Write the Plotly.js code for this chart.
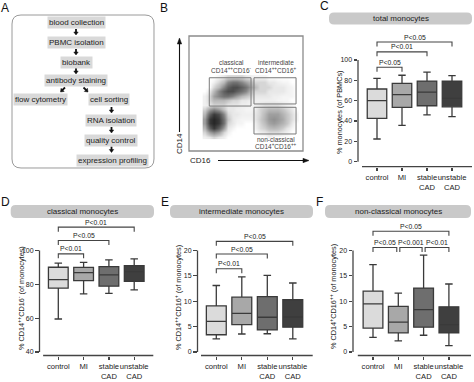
<!DOCTYPE html>
<html><head><meta charset="utf-8">
<script src="https://cdn.plot.ly/plotly-3.0.1.min.js"></script>
<style>html,body{margin:0;padding:0;background:#fff;}#chart{width:474px;height:382px;}</style>
</head><body><div id="chart"></div>
<script>
// ---------- DATA ----------
const groups = ['control', 'MI', 'stable<br>CAD', 'unstable<br>CAD'];

// Panel A workflow
const steps = ['blood collection', 'PBMC isolation', 'biobank', 'antibody staining',
  'flow cytometry', 'cell sorting', 'RNA isolation', 'quality control', 'expression profiling'];

// Panel B flow cytometry density (CD16 bins x CD14 bins)
const cd16Bins = [14, 18, 22, 26, 30, 34, 38, 42, 46, 50, 54, 58, 62, 66, 70, 74, 78, 82, 86, 90, 94];
const cd14Bins = [12, 16, 20, 24, 28, 32, 36, 40, 44, 48, 52, 56, 60, 64];
const density = [
  [0.3, 0.5, 1, 0.5, 0.3, 0, 0, 0, 0, 0, 0, 0, 0, 0, 0.3, 0, 0, 0, 0, 0, 0],
  [1, 3, 4, 3, 1, 0.3, 0, 0, 0, 0, 0, 0, 0.3, 0.5, 0.8, 0.8, 0.8, 0.5, 0.3, 0, 0],
  [2, 6, 8, 6, 3, 0.5, 0.2, 0, 0, 0, 0, 0.2, 0.8, 1.2, 1.8, 2, 1.8, 1.2, 0.6, 0.2, 0],
  [3, 8, 9, 8, 5, 1, 0.5, 0.2, 0.2, 0, 0, 0.3, 1, 1.8, 2.8, 3.2, 2.8, 2.2, 1.5, 0.5, 0],
  [3, 8, 9, 8, 5, 1.5, 0.5, 0.3, 0.2, 0.2, 0.2, 0.5, 1.2, 2.2, 3.2, 3.6, 3.2, 2.6, 1.6, 0.8, 0.2],
  [2, 6, 8, 7, 4, 1, 0.5, 0.5, 0.3, 0.3, 0.3, 0.5, 1, 2, 3, 3, 3, 2.2, 1.5, 0.8, 0.2],
  [1, 3, 4, 3, 1.5, 0.5, 0.5, 0.3, 0.3, 0.2, 0.2, 0.3, 1, 1.5, 2, 2, 2, 1.5, 1, 0.5, 0],
  [0.3, 0.5, 1, 1, 1, 0.5, 0.5, 0.5, 0.3, 0.3, 0.2, 0.3, 0.5, 0.8, 0.8, 0.8, 0.8, 0.5, 0.3, 0.2, 0],
  [0.3, 1, 2, 2, 2, 1.5, 1, 1, 0.5, 0.5, 0.3, 0.3, 0.3, 0.3, 0.3, 0.3, 0.2, 0.2, 0.2, 0, 0],
  [0.3, 1, 3, 4, 5, 5, 4, 3, 2, 1.5, 1, 0.5, 0.5, 0.5, 0.5, 0.3, 0.3, 0.2, 0.2, 0.2, 0],
  [0, 0.5, 2, 4, 6, 7, 7, 6, 5, 4, 2, 1, 1, 1, 0.5, 0.5, 0.5, 0.5, 0.3, 0.2, 0],
  [0, 0, 1, 2, 4, 6, 7, 7, 6, 5, 3, 2, 1, 1, 1, 0.5, 0.5, 0.5, 0.3, 0.2, 0],
  [0, 0, 0.3, 1, 2, 4, 5, 5, 4, 3, 2, 1, 1, 1, 0.5, 0.5, 0.3, 0.2, 0.2, 0, 0],
  [0, 0, 0, 0.2, 0.5, 1, 1, 1, 1, 0.5, 0.3, 0.2, 0.2, 0.2, 0, 0, 0, 0, 0, 0, 0]
];
const gateNames = ['classical', 'intermediate', 'non-classical'];
const gatePhenotypes = ['CD14<sup>++</sup>CD16<sup>-</sup>', 'CD14<sup>++</sup>CD16<sup>+</sup>', 'CD14<sup>+</sup>CD16<sup>++</sup>'];
const gateCD16Lo = [17.8, 57, 57], gateCD16Hi = [54.4, 93.9, 93.9];
const gateCD14Lo = [39.1, 40.9, 14.8], gateCD14Hi = [63.7, 63.7, 38];

// Panel C: total monocytes (% of PBMCs)
const totLow = [22.3, 35.7, 46, 44.3];
const totQ1 = [42.6, 53.4, 55, 54];
const totMed = [60, 66, 68.5, 62.3];
const totQ3 = [71.5, 77, 79.3, 79.3];
const totHigh = [82, 85, 88, 84.6];
const totPairs = [[0, 1], [0, 2], [0, 3]];
const totP = ['P<0.05', 'P<0.01', 'P<0.05'];

// Panel D: classical monocytes
const claLow = [59.5, 74.3, 74.7, 76.7];
const claQ1 = [77.7, 82.2, 78.9, 81.8];
const claMed = [82.8, 86.9, 85.6, 87.5];
const claQ3 = [90.1, 90, 90.5, 91];
const claHigh = [92.5, 93, 94.4, 95];
const claPairs = [[0, 1], [0, 2], [0, 3]];
const claP = ['P<0.01', 'P<0.05', 'P<0.01'];

// Panel E: intermediate monocytes
const intLow = [2.6, 3.55, 3.6, 2.6];
const intQ1 = [3.4, 5.4, 4.35, 4.9];
const intMed = [6.05, 7.6, 6.85, 6.9];
const intQ3 = [9.1, 10.8, 10.9, 10.3];
const intHigh = [13.1, 14.8, 15.1, 13.6];
const intPairs = [[0, 1], [0, 2], [0, 3]];
const intP = ['P<0.01', 'P<0.05', 'P<0.05'];

// Panel F: non-classical monocytes
const ncLow = [2.9, 2.2, 3.3, 1.25];
const ncQ1 = [4.7, 3.75, 4.9, 3.75];
const ncMed = [9.5, 5.9, 8.35, 5.4];
const ncQ3 = [12, 9, 12.6, 8.9];
const ncHigh = [17.2, 11.6, 19.1, 13.4];
const ncPairs = [[0, 1], [1, 2], [2, 3], [0, 3]];
const ncP = ['P<0.05', 'P<0.001', 'P<0.01', 'P<0.05'];

// ---------- LAYOUT HELPERS ----------
const W = 474, H = 382;
const FONT = 'Liberation Sans, Arial, sans-serif';
const fills = ['#dbdbdb', '#a8a8a8', '#6e6e6e', '#3f3f3f'];
const px = x => x / W, py = y => 1 - y / H;
const traces = [], shapes = [], annotations = [];
const layout = {
  width: W, height: H, margin: {l: 0, r: 0, t: 0, b: 0},
  paper_bgcolor: '#fff', plot_bgcolor: 'rgba(0,0,0,0)', showlegend: false,
  font: {family: FONT, color: '#222'}
};
function rr(x0, y0, x1, y1, r) {
  const P = (x, y) => px(x).toFixed(5) + ',' + py(y).toFixed(5);
  return 'M' + P(x0 + r, y0) + ' L' + P(x1 - r, y0) + ' Q' + P(x1, y0) + ' ' + P(x1, y0 + r) +
    ' L' + P(x1, y1 - r) + ' Q' + P(x1, y1) + ' ' + P(x1 - r, y1) + ' L' + P(x0 + r, y1) +
    ' Q' + P(x0, y1) + ' ' + P(x0, y1 - r) + ' L' + P(x0, y0 + r) + ' Q' + P(x0, y0) + ' ' + P(x0 + r, y0) + ' Z';
}
function txt(x, y, t, size, extra) {
  annotations.push(Object.assign({xref: 'paper', yref: 'paper', x: px(x), y: py(y), text: t, showarrow: false,
    xanchor: 'center', yanchor: 'middle', font: {family: FONT, size: size, color: '#222'}}, extra || {}));
}
// arrow drawn as shapes: stem + filled head
function arrow(tx, ty, hx, hy, w, hl, hw) {
  const dx = hx - tx, dy = hy - ty, L = Math.hypot(dx, dy), ux = dx / L, uy = dy / L;
  const bx = hx - ux * hl, by = hy - uy * hl;
  const P = (x, y) => px(x).toFixed(5) + ',' + py(y).toFixed(5);
  shapes.push({type: 'line', xref: 'paper', yref: 'paper', x0: px(tx), y0: py(ty), x1: px(bx + ux * 0.5), y1: py(by + uy * 0.5),
    line: {color: '#111', width: w}});
  shapes.push({type: 'path', xref: 'paper', yref: 'paper', fillcolor: '#111', line: {color: '#111', width: 0.5},
    path: 'M' + P(hx, hy) + ' L' + P(bx - uy * hw, by + ux * hw) + ' L' + P(bx + uy * hw, by - ux * hw) + ' Z'});
}

// ---------- PANEL LETTERS ----------
[['A', 5, 8], ['B', 164, 8], ['C', 324, 6], ['D', 5, 202], ['E', 165, 202], ['F', 319, 202]]
  .forEach(l => txt(l[1], l[2], l[0], 12, {font: {family: FONT, size: 12, color: '#111'}}));

// ---------- PANEL A ----------
shapes.push({type: 'path', xref: 'paper', yref: 'paper', path: rr(12, 15, 154, 168, 9),
  line: {color: '#9a9a9a', width: 1}, fillcolor: 'rgba(0,0,0,0)'});
const stepPos = [[76, 23], [76, 42.3], [76, 62], [76, 80.7], [40.8, 100], [109, 100], [111, 120], [111, 140], [112, 160]];
steps.forEach((s, i) => txt(stepPos[i][0], stepPos[i][1], s, 8, {bgcolor: '#d9d9d9', borderpad: 1}));
[[76, 29, 76, 35], [76, 49, 76, 55], [76, 68, 76, 74], [65, 87.5, 60.5, 92], [83.5, 87.5, 88, 92],
 [111.5, 107, 111.5, 113], [111.5, 127, 111.5, 133], [111.5, 146.5, 111.5, 152.5]]
  .forEach(a => arrow(a[0], a[1], a[2], a[3], 1.8, 3, 2.2));

// ---------- PANEL B ----------
layout.xaxis = {domain: [px(189), px(303)], range: [0, 100], visible: false, fixedrange: true, anchor: 'y'};
layout.yaxis = {domain: [py(151), py(36)], range: [0, 100], visible: false, fixedrange: true, anchor: 'x'};
traces.push({type: 'heatmap', x: cd16Bins, y: cd14Bins, z: density, xaxis: 'x', yaxis: 'y', zsmooth: 'best',
  zmin: 0, zmax: 9, showscale: false, hoverinfo: 'skip',
  colorscale: [[0, '#ffffff'], [0.03, '#f1f1f1'], [0.15, '#c9c9c9'], [0.45, '#858585'], [1, '#262626']]});
shapes.push({type: 'rect', xref: 'paper', yref: 'paper', x0: px(189), x1: px(303), y0: py(151), y1: py(36),
  line: {color: '#8c8c8c', width: 1.3}});
gateNames.forEach((g, i) => shapes.push({type: 'rect', xref: 'x', yref: 'y', x0: gateCD16Lo[i], x1: gateCD16Hi[i],
  y0: gateCD14Lo[i], y1: gateCD14Hi[i], line: {color: '#7a7a7a', width: 1}}));
const gateLabelPos = [[231, 62.7, 69.5], [275.7, 62.7, 69.5], [275.7, 139.3, 146.5]];
gateNames.forEach((g, i) => {
  txt(gateLabelPos[i][0], gateLabelPos[i][1], g, 6.5, {font: {family: FONT, size: 6.5, color: '#444'}});
  txt(gateLabelPos[i][0], gateLabelPos[i][2], gatePhenotypes[i], 6.5, {font: {family: FONT, size: 6.5, color: '#444'}});
});
arrow(179.5, 132, 179.5, 38, 1.1, 6, 2.2);
arrow(218, 160.5, 309, 160.5, 1.1, 6, 2.2);
txt(180, 144, 'CD14', 8, {textangle: -90});
txt(200, 160.5, 'CD16', 8);

// ---------- BOX PANELS ----------
function boxPanel(c) {
  const n = c.n, xa = 'x' + n, ya = 'y' + n, k = c.k;
  const lo = c.refVal - (c.axisPx - c.refPx) / k;
  const hi = c.refVal + (c.refPx - c.topPx) / k;
  const valPx = v => c.refPx - (v - c.refVal) * k;
  layout['xaxis' + n] = {domain: [px(c.left), px(c.right)], range: [(c.left - c.cat0) / c.step, (c.right - c.cat0) / c.step],
    anchor: ya, tickvals: [0, 1, 2, 3], ticktext: groups, tickangle: 0, ticks: 'outside', ticklen: 3.5, tickwidth: 1.2,
    tickcolor: '#444', showline: false, showgrid: false, zeroline: false, fixedrange: true, automargin: false,
    tickfont: {family: FONT, size: 7.6, color: '#222'}};
  layout['yaxis' + n] = {domain: [py(c.axisPx), py(c.topPx)], range: [lo, hi], anchor: xa, tickvals: c.ticks,
    ticks: 'outside', ticklen: 3.5, tickwidth: 1.2, tickcolor: '#444', showline: false, showgrid: false, zeroline: false,
    fixedrange: true, automargin: false, tickfont: {family: FONT, size: 7, color: '#222'}};
  for (let i = 0; i < 4; i++) {
    traces.push({type: 'box', xaxis: xa, yaxis: ya, x: [i], q1: [c.q1[i]], median: [c.med[i]], q3: [c.q3[i]],
      lowerfence: [c.low[i]], upperfence: [c.high[i]], width: 0.78, whiskerwidth: 0.38, fillcolor: fills[i],
      line: {color: '#3a3a3a', width: 1.3}, boxpoints: false, hoverinfo: 'skip'});
  }
  shapes.push({type: 'line', xref: 'paper', yref: 'paper', x0: px(c.left), x1: px(c.left),
    y0: py(valPx(c.ticks[0])), y1: py(valPx(c.ticks[c.ticks.length - 1])), line: {color: '#444', width: 1.3}});
  shapes.push({type: 'line', xref: 'paper', yref: 'paper', x0: px(c.cat0 - 0.6 * c.step), x1: px(c.right),
    y0: py(c.axisPx), y1: py(c.axisPx), line: {color: '#444', width: 1.3}});
  const drop = 4.5 / k;
  c.pairs.forEach((p, j) => {
    const y = c.levels[j], x0 = p[0] + c.insets[j][0], x1 = p[1] - c.insets[j][1];
    shapes.push({type: 'path', xref: xa, yref: ya, line: {color: '#444', width: 1.1},
      path: 'M' + x0 + ',' + (y - drop) + ' L' + x0 + ',' + y + ' L' + x1 + ',' + y + ' L' + x1 + ',' + (y - drop)});
    annotations.push({xref: xa, yref: ya, x: (x0 + x1) / 2, y: y, yanchor: 'bottom', xanchor: 'center', yshift: -0.5,
      text: c.labels[j], showarrow: false, font: {family: FONT, size: 6.8, color: '#222'}});
  });
  shapes.push({type: 'path', xref: 'paper', yref: 'paper', path: rr(c.bar[0], c.bar[1], c.bar[2], c.bar[3], 5),
    fillcolor: '#c9c9c9', line: {width: 0}});
  txt((c.bar[0] + c.bar[2]) / 2, (c.bar[1] + c.bar[3]) / 2, c.title, 8);
  txt(c.ytitle[0], c.ytitle[1], c.ytitle[2], 7.3, {textangle: -90});
}
const noInset = [[0, 0], [0, 0], [0, 0]];
boxPanel({n: 2, left: 358, right: 472, cat0: 377, step: 25, refVal: 0, refPx: 161.7, k: 1.017, axisPx: 166.7, topPx: 30,
  ticks: [0, 20, 40, 60, 80, 100], low: totLow, q1: totQ1, med: totMed, q3: totQ3, high: totHigh,
  pairs: totPairs, labels: totP, levels: [92.8, 108, 117.7], insets: noInset,
  bar: [329, 12.5, 472, 24.5], title: 'total monocytes', ytitle: [340, 112, '% monocytes (of PBMCs)']});
boxPanel({n: 3, left: 39.5, right: 153.3, cat0: 58.3, step: 25.3, refVal: 40, refPx: 352, k: 1.692, axisPx: 355.5, topPx: 222,
  ticks: [40, 60, 80, 100], low: claLow, q1: claQ1, med: claMed, q3: claQ3, high: claHigh,
  pairs: claPairs, labels: claP, levels: [98, 105.9, 113.8], insets: noInset,
  bar: [10.7, 205, 154, 218], title: 'classical monocytes',
  ytitle: [21, 298, '% CD14<sup>++</sup>CD16<sup>-</sup> (of monocytes)']});
boxPanel({n: 4, left: 197.5, right: 312.7, cat0: 216.3, step: 25.5, refVal: 0, refPx: 352, k: 5.075, axisPx: 355.5, topPx: 222,
  ticks: [0, 5, 10, 15, 20], low: intLow, q1: intQ1, med: intMed, q3: intQ3, high: intHigh,
  pairs: intPairs, labels: intP, levels: [16.4, 19.3, 21.8], insets: noInset,
  bar: [170, 205, 313, 218], title: 'intermediate monocytes',
  ytitle: [178, 298, '% CD14<sup>++</sup>CD16<sup>+</sup> (of monocytes)']});
boxPanel({n: 5, left: 353, right: 471, cat0: 373, step: 25.3, refVal: 0, refPx: 352, k: 5.075, axisPx: 355.5, topPx: 222,
  ticks: [0, 5, 10, 15, 20], low: ncLow, q1: ncQ1, med: ncMed, q3: ncQ3, high: ncHigh,
  pairs: ncPairs, labels: ncP, levels: [20.6, 20.6, 20.6, 23.8], insets: [[0, 0.06], [0.06, 0.06], [0.06, 0], [0, 0]],
  bar: [325, 205, 471, 218], title: 'non-classical monocytes',
  ytitle: [333, 297, '% CD14<sup>+</sup>CD16<sup>++</sup> (of monocytes)']});

layout.shapes = shapes;
layout.annotations = annotations;
Plotly.newPlot('chart', traces, layout, {staticPlot: true, displayModeBar: false});
</script>
</body></html>
